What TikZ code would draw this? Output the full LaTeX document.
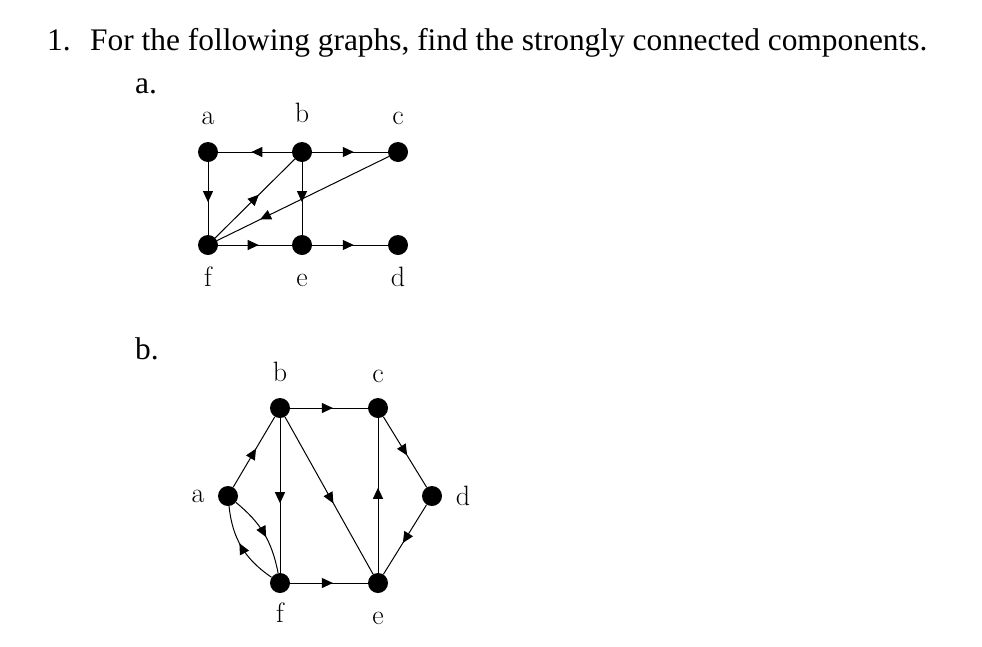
\documentclass[tikz,border=0pt]{standalone}
\usepackage{fontspec}
\setmainfont{Liberation Serif}
\newfontfamily\lm{Latin Modern Roman}
\usetikzlibrary{decorations.markings,arrows.meta}
\begin{document}
\begin{tikzpicture}[x=1pt,y=-1pt,
  vtx/.style={circle,fill=black,inner sep=0pt,minimum size=20pt},
  lbl/.style={font=\lm\fontsize{28}{28}\selectfont,inner sep=0pt},
  edg/.style={line width=1pt,postaction={decorate},decoration={markings,mark=at position #1 with {\arrow{Triangle[length=11pt,width=10pt]}}}},
  edg/.default=0.55,
  txt/.style={font=\fontsize{31.4}{31.4}\selectfont,anchor=base west,inner sep=0pt}]
\useasboundingbox (0,0) rectangle (982,646);
\node[txt] (n1) at (47,50) {1.};
\node[txt] (t1) at (90,50) {For the following graphs, find the strongly connected components.};
\node[txt] (ta) at (135,93) {a.};
\node[txt] (tb) at (135,359) {b.};
% graph a
\node[vtx] (a) at (208,152) {};
\node[vtx] (b) at (302,152) {};
\node[vtx] (c) at (398,152) {};
\node[vtx] (f) at (208,245) {};
\node[vtx] (e) at (302,245) {};
\node[vtx] (d) at (398,245) {};
\node[lbl] (la) at (208,118) {a};
\node[lbl] (lb) at (302,113) {b};
\node[lbl] (lc) at (398,118) {c};
\node[lbl] (lf) at (208,277) {f};
\node[lbl] (le) at (302,280) {e};
\node[lbl] (ld) at (398,277) {d};
\draw[edg] (b) -- (a);
\draw[edg] (b) -- (c);
\draw[edg] (a) -- (f);
\draw[edg] (f) -- (b);
\draw[edg=0.75] (c) -- (f);
\draw[edg] (b) -- (e);
\draw[edg] (f) -- (e);
\draw[edg] (e) -- (d);
% graph b
\node[vtx] (B) at (280,408) {};
\node[vtx] (C) at (378,408) {};
\node[vtx] (D) at (432,496) {};
\node[vtx] (A) at (228,496) {};
\node[vtx] (F) at (280,583) {};
\node[vtx] (E) at (378,583) {};
\node[lbl] (lB) at (280,372) {b};
\node[lbl] (lC) at (378,376) {c};
\node[lbl] (lA) at (198,496) {a};
\node[lbl] (lD) at (463,496) {d};
\node[lbl] (lF) at (280,613) {f};
\node[lbl] (lE) at (378,618) {e};
\draw[edg] (B) -- (C);
\draw[edg] (C) -- (D);
\draw[edg] (D) -- (E);
\draw[edg] (E) -- (C);
\draw[edg] (B) -- (E);
\draw[edg] (B) -- (F);
\draw[edg] (A) -- (B);
\draw[edg] (F) -- (E);
\draw[edg] (A) to[bend left=20] (F);
\draw[edg] (F) to[bend left=25] (A);
\end{tikzpicture}
\end{document}
